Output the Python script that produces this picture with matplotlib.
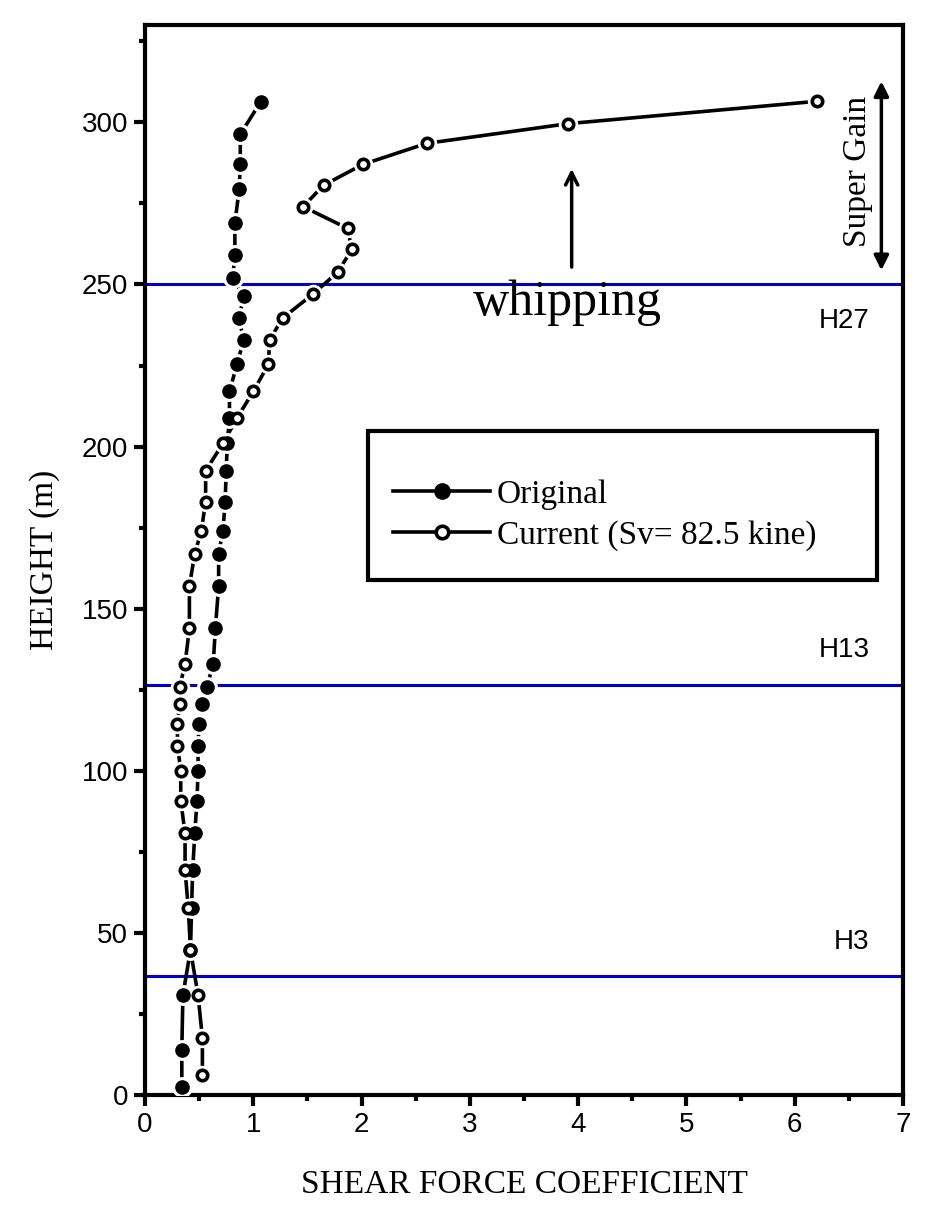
import matplotlib
matplotlib.use("Agg")
import matplotlib.pyplot as plt
from matplotlib.lines import Line2D
from matplotlib.patches import Rectangle
from matplotlib.ticker import MultipleLocator

# heights (m) and shear force coefficients
orig_height = [306.4, 296.3, 287.0, 279.3, 269.0, 259.0, 252.0, 246.4, 239.6, 232.8,
               225.4, 217.0, 208.8, 201.0, 192.5, 183.0, 174.0, 167.0, 157.0, 144.0,
               133.0, 125.7, 120.5, 114.5, 107.8, 100.0, 90.8, 80.7, 69.3, 57.6,
               44.7, 30.8, 13.9, 2.5]
orig_coef = [1.07, 0.88, 0.88, 0.87, 0.83, 0.83, 0.81, 0.91, 0.87, 0.91,
             0.85, 0.78, 0.78, 0.76, 0.75, 0.74, 0.72, 0.68, 0.68, 0.65,
             0.63, 0.57, 0.53, 0.50, 0.49, 0.49, 0.48, 0.46, 0.44, 0.43,
             0.42, 0.35, 0.34, 0.34]

cur_height = [306.5, 299.6, 293.5, 287.0, 280.6, 274.0, 267.3, 260.8, 253.8, 247.0,
              239.6, 232.8, 225.4, 217.0, 208.8, 201.0, 192.5, 183.0, 174.0, 167.0,
              157.0, 144.0, 133.0, 125.7, 120.5, 114.5, 107.8, 100.0, 90.8, 80.7,
              69.3, 57.6, 44.7, 30.8, 17.6, 6.2]
cur_coef = [6.21, 3.91, 2.60, 2.01, 1.65, 1.46, 1.87, 1.91, 1.78, 1.55,
            1.27, 1.15, 1.14, 1.00, 0.85, 0.72, 0.56, 0.56, 0.52, 0.46,
            0.41, 0.41, 0.37, 0.32, 0.32, 0.30, 0.30, 0.33, 0.33, 0.37,
            0.37, 0.40, 0.42, 0.49, 0.53, 0.53]

floor_levels = [250.0, 126.6, 36.6]
floor_names = ["H27", "H13", "H3"]
floor_label_y = [238.6, 137.2, 47.2]

SERIF = ["Liberation Serif", "DejaVu Serif"]
SANS = ["Liberation Sans", "DejaVu Sans"]

fig = plt.figure(figsize=(9.44, 12.10), dpi=100)
ax = fig.add_axes([0.1536, 0.095, 0.803, 0.8843])

# floor lines
for lvl in floor_levels:
    ax.axhline(lvl, color="#0000cc", lw=2.2, zorder=1)
for name, yy in zip(floor_names, floor_label_y):
    ax.text(6.69, yy, name, ha="right", va="center", fontsize=20, family=SANS)

# lines with small gaps around markers (Origin style)
ax.plot(orig_coef, orig_height, color="black", lw=2.6, zorder=2)
ax.plot(cur_coef, cur_height, color="black", lw=2.6, zorder=2)
ax.plot(orig_coef, orig_height, ls="none", marker="o", ms=14, mfc="white",
        mec="white", zorder=3)
ax.plot(cur_coef, cur_height, ls="none", marker="o", ms=13, mfc="white",
        mec="white", zorder=3)
ax.plot(orig_coef, orig_height, ls="none", marker="o", ms=9.5, mfc="black",
        mec="black", zorder=4)
ax.plot(cur_coef, cur_height, ls="none", marker="o", ms=7.5, mfc="white",
        mec="black", mew=2.6, zorder=5)

ax.set_xlim(0, 7)
ax.set_ylim(0, 330)
ax.xaxis.set_major_locator(MultipleLocator(1))
ax.xaxis.set_minor_locator(MultipleLocator(0.5))
ax.yaxis.set_major_locator(MultipleLocator(50))
ax.yaxis.set_minor_locator(MultipleLocator(25))
ax.tick_params(which="major", direction="out", length=8, width=3, labelsize=20, pad=4)
ax.tick_params(which="minor", direction="out", length=4, width=3)
for lab in ax.get_xticklabels() + ax.get_yticklabels():
    lab.set_family(SANS)
for sp in ax.spines.values():
    sp.set_linewidth(3)

ax.set_xlabel("SHEAR FORCE COEFFICIENT", fontsize=24, family=SERIF, labelpad=23)
ax.set_ylabel("HEIGHT (m)", fontsize=24, family=SERIF, labelpad=16)

# whipping annotation
ax.annotate("", xy=(3.94, 286.5), xytext=(3.94, 254.5),
            arrowprops=dict(arrowstyle="->", lw=2.5, color="black",
                            mutation_scale=22))
ax.text(3.9, 251.5, "whipping", ha="center", va="top", fontsize=36, family=SERIF)

# super gain double arrow
ax.annotate("", xy=(6.8, 313.5), xytext=(6.8, 253.5),
            arrowprops=dict(arrowstyle="<|-|>", lw=2.5, color="black",
                            mutation_scale=22))
ax.text(6.58, 285, "Super Gain", rotation=90, ha="center", va="center",
        fontsize=24, family=SERIF)

# legend box
ax.add_patch(Rectangle((0.294, 0.481), 0.672, 0.140, transform=ax.transAxes,
                       fill=False, lw=3, edgecolor="black", zorder=6))
handles = [
    Line2D([], [], color="black", lw=2.6, marker="o", ms=11, mfc="black", mec="black"),
    Line2D([], [], color="black", lw=2.6, marker="o", ms=9, mfc="white", mec="black", mew=2.6),
]
ax.legend(handles, ["Original", "Current (Sv= 82.5 kine)"], loc="center left",
          bbox_to_anchor=(0.288, 0.542), frameon=False, handlelength=2.9,
          handletextpad=0.2, labelspacing=0.3,
          prop={"family": SERIF, "size": 24})

fig.savefig("out.png", dpi=100)
